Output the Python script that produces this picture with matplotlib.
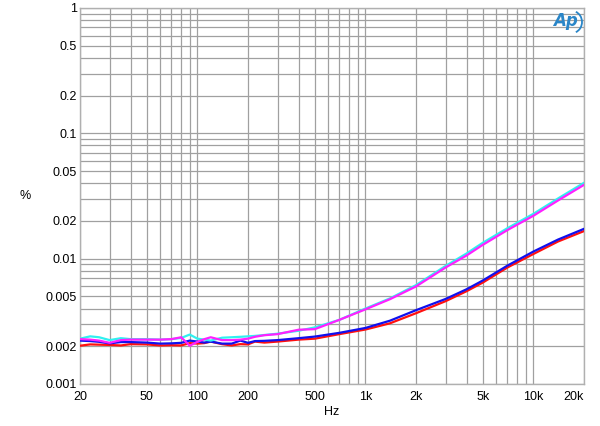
import matplotlib
matplotlib.use("Agg")
import matplotlib.pyplot as plt
from matplotlib.ticker import FixedLocator, NullLocator
from matplotlib.patches import Arc

plt.rcParams['font.family'] = ['Liberation Sans', 'DejaVu Sans']

freq = [20, 23, 26, 30, 35, 40, 50, 60, 70, 80, 90, 100, 110, 120, 140, 160, 180,
        200, 220, 250, 300, 400, 500, 700, 1000, 1400, 2000, 3000, 4000, 5000,
        7000, 10000, 14000, 20000]

cyan_vals = [.00230, .00240, .00236, .00224, .00232, .00228, .00228, .00226, .00228,
             .00233, .00248, .00230, .00226, .00222, .00234, .00236, .00238, .00240,
             .00242, .00246, .00252, .00266, .00283, .00325, .00400, .00482, .00615,
             .00875, .0110, .0134, .0175, .0228, .0302, .0403]
magenta_vals = [.00228, .00226, .00222, .00213, .00224, .00226, .00226, .00226, .00228,
                .00236, .00202, .00217, .00228, .00236, .00224, .00224, .00226, .00230,
                .00238, .00245, .00250, .00271, .00274, .00325, .00394, .00475, .00600,
                .00850, .0106, .0129, .0169, .0220, .0291, .0388]
blue_vals = [.00222, .00220, .00217, .00211, .00216, .00216, .00214, .00210, .00211,
             .00213, .00222, .00218, .00214, .00218, .00210, .00210, .00222, .00213,
             .00220, .00221, .00224, .00232, .00239, .00256, .00280, .00320, .00388,
             .00477, .0057, .0067, .0088, .0114, .0142, .0173]
red_vals = [.00202, .00207, .00206, .00205, .00203, .00208, .00207, .00203, .00204,
            .00203, .00212, .00210, .00212, .00218, .00208, .00203, .00208, .00207,
            .00218, .00214, .00218, .00226, .00230, .00250, .00272, .00305, .00367,
            .00458, .0055, .00645, .0085, .0109, .0137, .0166]

x_ticks = [20, 50, 100, 200, 500, 1000, 2000, 5000, 10000, 20000]
x_labels = ["20", "50", "100", "200", "500", "1k", "2k", "5k", "10k", "20k"]
y_ticks = [0.001, 0.002, 0.005, 0.01, 0.02, 0.05, 0.1, 0.2, 0.5, 1]
y_labels = ["0.001", "0.002", "0.005", "0.01", "0.02", "0.05", "0.1", "0.2", "0.5", "1"]

fig = plt.figure(figsize=(6.0, 4.26), dpi=100)
ax = fig.add_axes([80/600, 1-384/426, 504/600, 376/426])
ax.set_xscale('log')
ax.set_yscale('log')
ax.set_xlim(20, 20000)
ax.set_ylim(0.001, 1)

xg = [m * 10**e for e in range(1, 5) for m in range(1, 10)]
xg = [v for v in xg if 20 <= v <= 20000]
yg = [m * 10**e for e in range(-3, 1) for m in range(1, 10)]
yg = [v for v in yg if 0.001 <= v <= 1]
for v in xg:
    ax.axvline(v, color='#a0a0a0', lw=0.9, zorder=1)
for v in yg:
    ax.axhline(v, color='#a0a0a0', lw=0.9, zorder=1)

ax.plot(freq, red_vals, color='#ff1010', lw=1.6, zorder=3)
ax.plot(freq, blue_vals, color='#1010ee', lw=1.6, zorder=4)
ax.plot(freq, cyan_vals, color='#30f0f0', lw=1.6, zorder=4.5)
ax.plot(freq, magenta_vals, color='#ff20ff', lw=1.6, zorder=5)

ax.xaxis.set_major_locator(FixedLocator(x_ticks))
ax.xaxis.set_minor_locator(NullLocator())
ax.set_xticklabels(x_labels)
ax.yaxis.set_major_locator(FixedLocator(y_ticks))
ax.yaxis.set_minor_locator(NullLocator())
ax.set_yticklabels(y_labels)
ax.tick_params(axis='both', length=0, labelsize=9, colors='black')
ax.tick_params(axis='x', pad=5)
ax.tick_params(axis='y', pad=2)
ax.get_xticklabels()[-1].set_horizontalalignment('right')

for s in ax.spines.values():
    s.set_color('#b0b0b0')
    s.set_linewidth(1.0)

fig.text(25/600, 1-196/426, "%", fontsize=9, ha='center', va='center')
fig.text(332/600, 1-412/426, "Hz", fontsize=9, ha='center', va='center')

# Ap logo
fig.text(565/600, 1-21/426, "Ap", fontsize=12, fontstyle='italic', fontweight='bold',
         color='#2a86c8', ha='center', va='center', family=['DejaVu Sans'])
arc = Arc((572/600, 1-22/426), 20/600, 22/426, theta1=-75, theta2=75,
          transform=fig.transFigure, color='#2a86c8', lw=1.3)
fig.add_artist(arc)

fig.savefig("out.png", dpi=100)
